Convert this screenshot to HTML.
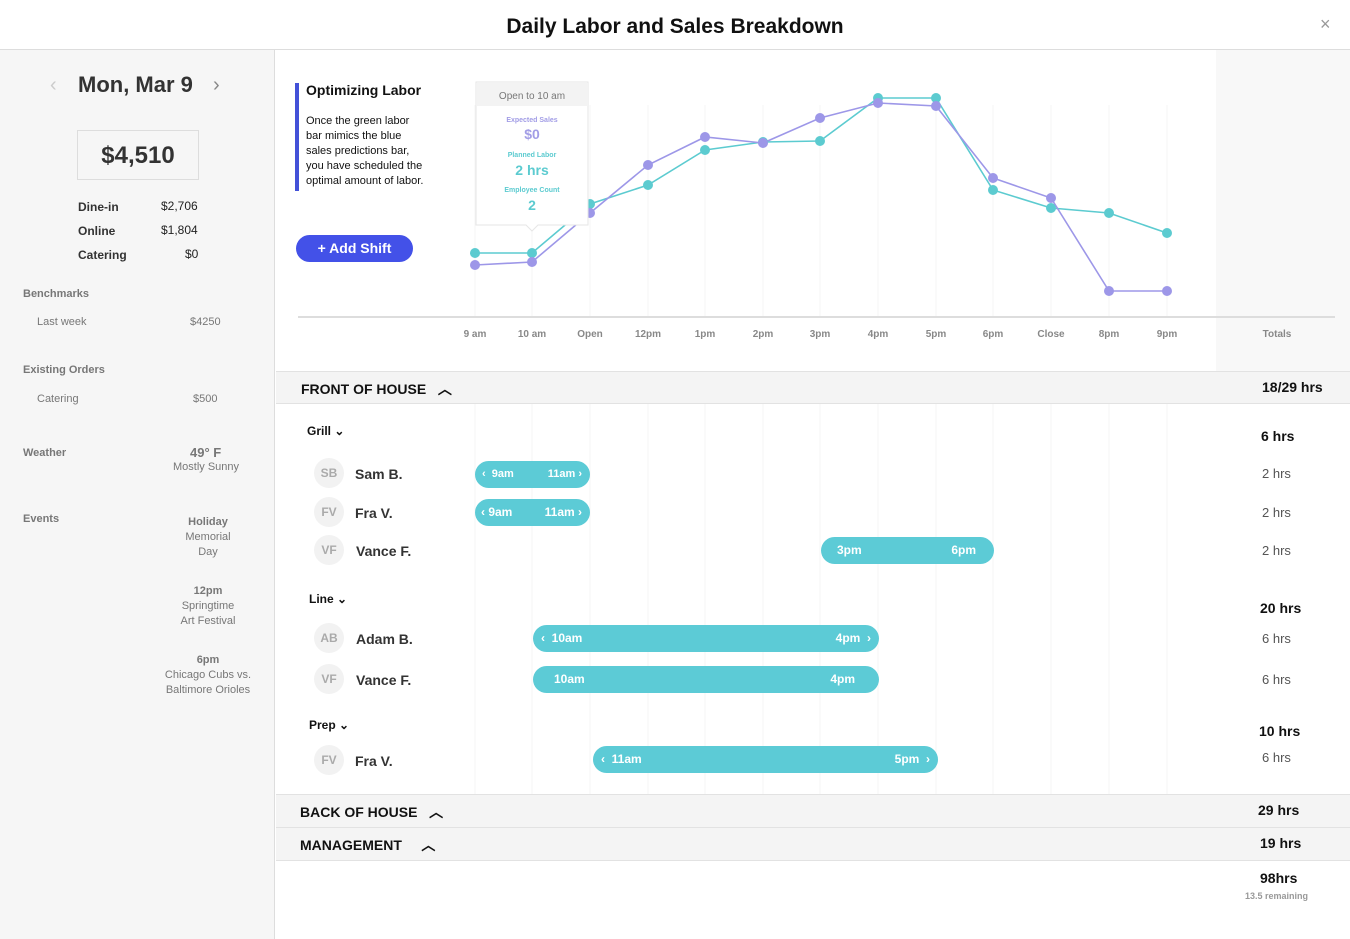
<!DOCTYPE html>
<html><head><meta charset="utf-8"><style>
*{margin:0;padding:0;box-sizing:border-box}
body{width:1350px;height:939px;position:relative;background:#fff;font-family:"Liberation Sans",Arial,sans-serif;color:#222;overflow:hidden}
.a{position:absolute;white-space:nowrap}
.b{font-weight:bold}
.g{color:#777}
.bar{position:absolute;height:27px;border-radius:14px;background:#5ccbd6;color:#fff;font-weight:bold;font-size:12px;line-height:27px}
.av{position:absolute;width:30px;height:30px;border-radius:15px;background:#f2f2f2;color:#aaa;font-size:12px;font-weight:bold;text-align:center;line-height:30px}
.nm{position:absolute;font-size:14px;font-weight:bold;color:#333}
.hr{position:absolute;right:0;width:140px;font-size:13px;color:#555}
</style></head><body>
<div class="a b" style="left:0;width:1350px;top:15px;text-align:center;font-size:21px;color:#111">Daily Labor and Sales Breakdown</div>
<div class="a" style="left:1320px;top:14px;font-size:18px;color:#999">×</div>
<div class="a" style="left:0;top:49px;width:1350px;height:1px;background:#ddd"></div>
<!-- sidebar -->
<div class="a" style="left:0;top:50px;width:275px;height:889px;background:#f6f6f6;border-right:1px solid #ddd"></div>
<div class="a" style="left:50px;top:74px;font-size:20px;color:#ccc">‹</div>
<div class="a b" style="left:78px;top:72px;font-size:22px;color:#333">Mon, Mar 9</div>
<div class="a" style="left:213px;top:74px;font-size:20px;color:#888">›</div>
<div class="a b" style="left:77px;top:130px;width:122px;height:50px;border:1px solid #ddd;text-align:center;line-height:50px;font-size:24px;color:#333">$4,510</div>
<div class="a b" style="left:78px;top:200px;font-size:12px;color:#333">Dine-in</div><div class="a" style="left:161px;top:199px;font-size:12px">$2,706</div>
<div class="a b" style="left:78px;top:224px;font-size:12px;color:#333">Online</div><div class="a" style="left:161px;top:223px;font-size:12px">$1,804</div>
<div class="a b" style="left:78px;top:248px;font-size:12px;color:#333">Catering</div><div class="a" style="left:185px;top:247px;font-size:12px">$0</div>
<div class="a b g" style="left:23px;top:288px;font-size:11px">Benchmarks</div>
<div class="a g" style="left:37px;top:316px;font-size:11px">Last week</div><div class="a g" style="left:190px;top:316px;font-size:11px">$4250</div>
<div class="a b g" style="left:23px;top:364px;font-size:11px">Existing Orders</div>
<div class="a g" style="left:37px;top:393px;font-size:11px">Catering</div><div class="a g" style="left:193px;top:393px;font-size:11px">$500</div>
<div class="a b g" style="left:23px;top:447px;font-size:11px">Weather</div>
<div class="a b g" style="left:190px;top:445px;font-size:13px">49° F</div>
<div class="a g" style="left:173px;top:461px;font-size:11px">Mostly Sunny</div>
<div class="a b g" style="left:23px;top:513px;font-size:11px">Events</div>
<div class="a g" style="left:148px;top:515px;width:120px;text-align:center;font-size:11px;line-height:15px"><b>Holiday</b><br>Memorial<br>Day</div>
<div class="a g" style="left:148px;top:584px;width:120px;text-align:center;font-size:11px;line-height:15px"><b>12pm</b><br>Springtime<br>Art Festival</div>
<div class="a g" style="left:148px;top:653px;width:120px;text-align:center;font-size:11px;line-height:15px"><b>6pm</b><br>Chicago Cubs vs.<br>Baltimore Orioles</div>
<!-- totals column bg -->
<div class="a" style="left:1216px;top:50px;width:134px;height:321px;background:#f8f8f8"></div>
<!-- chart -->
<svg class="a" style="left:0;top:0" width="1350" height="939">
<g stroke="#f4f4f4" stroke-width="1">
<line x1="475" y1="105" x2="475" y2="317"/><line x1="532" y1="105" x2="532" y2="317"/><line x1="590" y1="105" x2="590" y2="317"/><line x1="648" y1="105" x2="648" y2="317"/><line x1="705" y1="105" x2="705" y2="317"/><line x1="763" y1="105" x2="763" y2="317"/><line x1="820" y1="105" x2="820" y2="317"/><line x1="878" y1="105" x2="878" y2="317"/><line x1="936" y1="105" x2="936" y2="317"/><line x1="993" y1="105" x2="993" y2="317"/><line x1="1051" y1="105" x2="1051" y2="317"/><line x1="1109" y1="105" x2="1109" y2="317"/><line x1="1167" y1="105" x2="1167" y2="317"/>
<line x1="475" y1="403" x2="475" y2="794"/><line x1="532" y1="403" x2="532" y2="794"/><line x1="590" y1="403" x2="590" y2="794"/><line x1="648" y1="403" x2="648" y2="794"/><line x1="705" y1="403" x2="705" y2="794"/><line x1="763" y1="403" x2="763" y2="794"/><line x1="820" y1="403" x2="820" y2="794"/><line x1="878" y1="403" x2="878" y2="794"/><line x1="936" y1="403" x2="936" y2="794"/><line x1="993" y1="403" x2="993" y2="794"/><line x1="1051" y1="403" x2="1051" y2="794"/><line x1="1109" y1="403" x2="1109" y2="794"/><line x1="1167" y1="403" x2="1167" y2="794"/>
</g>
<line x1="298" y1="317" x2="1335" y2="317" stroke="#ddd" stroke-width="2"/>
<polyline fill="none" stroke="#5ccbd0" stroke-width="1.6" points="475,253 532,253 590,204 648,185 705,150 763,142 820,141 878,98 936,98 993,190 1051,208 1109,213 1167,233"/>
<polyline fill="none" stroke="#9d97e8" stroke-width="1.6" points="475,265 532,262 590,213 648,165 705,137 763,143 820,118 878,103 936,106 993,178 1051,198 1109,291 1167,291"/>
<g fill="#5ccbd0"><circle cx="475" cy="253" r="5"/><circle cx="532" cy="253" r="5"/><circle cx="590" cy="204" r="5"/><circle cx="648" cy="185" r="5"/><circle cx="705" cy="150" r="5"/><circle cx="763" cy="142" r="5"/><circle cx="820" cy="141" r="5"/><circle cx="878" cy="98" r="5"/><circle cx="936" cy="98" r="5"/><circle cx="993" cy="190" r="5"/><circle cx="1051" cy="208" r="5"/><circle cx="1109" cy="213" r="5"/><circle cx="1167" cy="233" r="5"/></g>
<g fill="#9d97e8"><circle cx="475" cy="265" r="5"/><circle cx="532" cy="262" r="5"/><circle cx="590" cy="213" r="5"/><circle cx="648" cy="165" r="5"/><circle cx="705" cy="137" r="5"/><circle cx="763" cy="143" r="5"/><circle cx="820" cy="118" r="5"/><circle cx="878" cy="103" r="5"/><circle cx="936" cy="106" r="5"/><circle cx="993" cy="178" r="5"/><circle cx="1051" cy="198" r="5"/><circle cx="1109" cy="291" r="5"/><circle cx="1167" cy="291" r="5"/></g>
<g font-family="Liberation Sans,Arial,sans-serif" font-size="10" font-weight="bold" fill="#888" text-anchor="middle">
<text x="475" y="337">9 am</text><text x="532" y="337">10 am</text><text x="590" y="337">Open</text><text x="648" y="337">12pm</text><text x="705" y="337">1pm</text><text x="763" y="337">2pm</text><text x="820" y="337">3pm</text><text x="878" y="337">4pm</text><text x="936" y="337">5pm</text><text x="993" y="337">6pm</text><text x="1051" y="337">Close</text><text x="1109" y="337">8pm</text><text x="1167" y="337">9pm</text><text x="1277" y="337">Totals</text>
</g>
<!-- tooltip -->
<g font-family="Liberation Sans,Arial,sans-serif" text-anchor="middle" font-weight="bold">
<path d="M476,82 h112 v143 h-50 l-6,6 l-6,-6 h-50 z" fill="#fff" stroke="#e6e6e6"/>
<rect x="477" y="83" width="111" height="23" fill="#f3f3f3"/>
<text x="532" y="99" font-size="10" fill="#777" font-weight="normal">Open to 10 am</text>
<text x="532" y="122" font-size="7" fill="#a29de6">Expected Sales</text>
<text x="532" y="139" font-size="14" fill="#a29de6">$0</text>
<text x="532" y="157" font-size="7" fill="#5ccbd0">Planned Labor</text>
<text x="532" y="175" font-size="14" fill="#5ccbd0">2 hrs</text>
<text x="532" y="192" font-size="7" fill="#5ccbd0">Employee Count</text>
<text x="532" y="210" font-size="14" fill="#5ccbd0">2</text>
</g>
</svg>
<div class="a" style="left:295px;top:83px;width:4px;height:108px;background:#4351d8"></div>
<div class="a b" style="left:306px;top:82px;font-size:14px;color:#111">Optimizing Labor</div>
<div class="a" style="left:306px;top:114px;font-size:11px;line-height:15px;color:#111">Once the green labor<br>bar mimics the blue<br>sales predictions bar,<br>you have scheduled the<br>optimal amount of labor.</div>
<div class="a b" style="left:296px;top:235px;width:117px;height:27px;border-radius:14px;background:#4351e8;color:#fff;font-size:14px;text-align:center;line-height:27px">+ Add Shift</div>
<!-- sections -->
<div class="a" style="left:276px;top:371px;width:1074px;height:33px;background:#f4f4f4;border-top:1px solid #e2e2e2;border-bottom:1px solid #e2e2e2"></div>
<div class="a b" style="left:301px;top:379px;font-size:14px;color:#111">FRONT OF HOUSE &nbsp; ︿</div>
<div class="a b" style="left:1262px;top:379px;font-size:14px;color:#111">18/29 hrs</div>

<div class="a b" style="left:307px;top:424px;font-size:12px;color:#111">Grill ⌄</div>
<div class="hr b" style="top:428px;left:1261px;font-size:14px;color:#111">6 hrs</div>
<div class="av" style="left:314px;top:458px">SB</div><div class="nm" style="left:355px;top:466px">Sam B.</div>
<div class="bar" style="left:475px;top:461px;width:115px;font-size:11px"><span style="margin-left:7px">‹ &nbsp;9am</span><span style="position:absolute;right:8px">11am ›</span></div>
<div class="hr" style="top:466px;left:1262px">2 hrs</div>
<div class="av" style="left:314px;top:497px">FV</div><div class="nm" style="left:355px;top:505px">Fra V.</div>
<div class="bar" style="left:475px;top:499px;width:115px"><span style="margin-left:6px">‹ 9am</span><span style="position:absolute;right:8px">11am ›</span></div>
<div class="hr" style="top:505px;left:1262px">2 hrs</div>
<div class="av" style="left:314px;top:535px">VF</div><div class="nm" style="left:356px;top:543px">Vance F.</div>
<div class="bar" style="left:821px;top:537px;width:173px"><span style="margin-left:16px">3pm</span><span style="position:absolute;right:18px">6pm</span></div>
<div class="hr" style="top:543px;left:1262px">2 hrs</div>

<div class="a b" style="left:309px;top:592px;font-size:12px;color:#111">Line ⌄</div>
<div class="hr b" style="top:600px;left:1260px;font-size:14px;color:#111">20 hrs</div>
<div class="av" style="left:314px;top:623px">AB</div><div class="nm" style="left:356px;top:631px">Adam B.</div>
<div class="bar" style="left:533px;top:625px;width:346px"><span style="margin-left:8px">‹ &nbsp;10am</span><span style="position:absolute;right:8px">4pm &nbsp;›</span></div>
<div class="hr" style="top:631px;left:1262px">6 hrs</div>
<div class="av" style="left:314px;top:664px">VF</div><div class="nm" style="left:356px;top:672px">Vance F.</div>
<div class="bar" style="left:533px;top:666px;width:346px"><span style="margin-left:21px">10am</span><span style="position:absolute;right:24px">4pm</span></div>
<div class="hr" style="top:672px;left:1262px">6 hrs</div>

<div class="a b" style="left:309px;top:718px;font-size:12px;color:#111">Prep ⌄</div>
<div class="hr b" style="top:723px;left:1259px;font-size:14px;color:#111">10 hrs</div>
<div class="av" style="left:314px;top:745px">FV</div><div class="nm" style="left:355px;top:753px">Fra V.</div>
<div class="bar" style="left:593px;top:746px;width:345px"><span style="margin-left:8px">‹ &nbsp;11am</span><span style="position:absolute;right:8px">5pm &nbsp;›</span></div>
<div class="hr" style="top:750px;left:1262px">6 hrs</div>

<div class="a" style="left:276px;top:794px;width:1074px;height:67px;background:#f4f4f4;border-top:1px solid #e2e2e2;border-bottom:1px solid #e2e2e2"></div>
<div class="a" style="left:276px;top:827px;width:1074px;height:1px;background:#e2e2e2"></div>
<div class="a b" style="left:300px;top:802px;font-size:14px;color:#111">BACK OF HOUSE &nbsp; ︿</div>
<div class="a b" style="left:1258px;top:802px;font-size:14px;color:#111">29 hrs</div>
<div class="a b" style="left:300px;top:835px;font-size:14px;color:#111">MANAGEMENT &nbsp; &nbsp; ︿</div>
<div class="a b" style="left:1260px;top:835px;font-size:14px;color:#111">19 hrs</div>
<div class="a b" style="left:1260px;top:870px;font-size:14px;color:#111">98hrs</div>
<div class="a b" style="left:1245px;top:891px;font-size:9px;color:#999">13.5 remaining</div>
</body></html>
